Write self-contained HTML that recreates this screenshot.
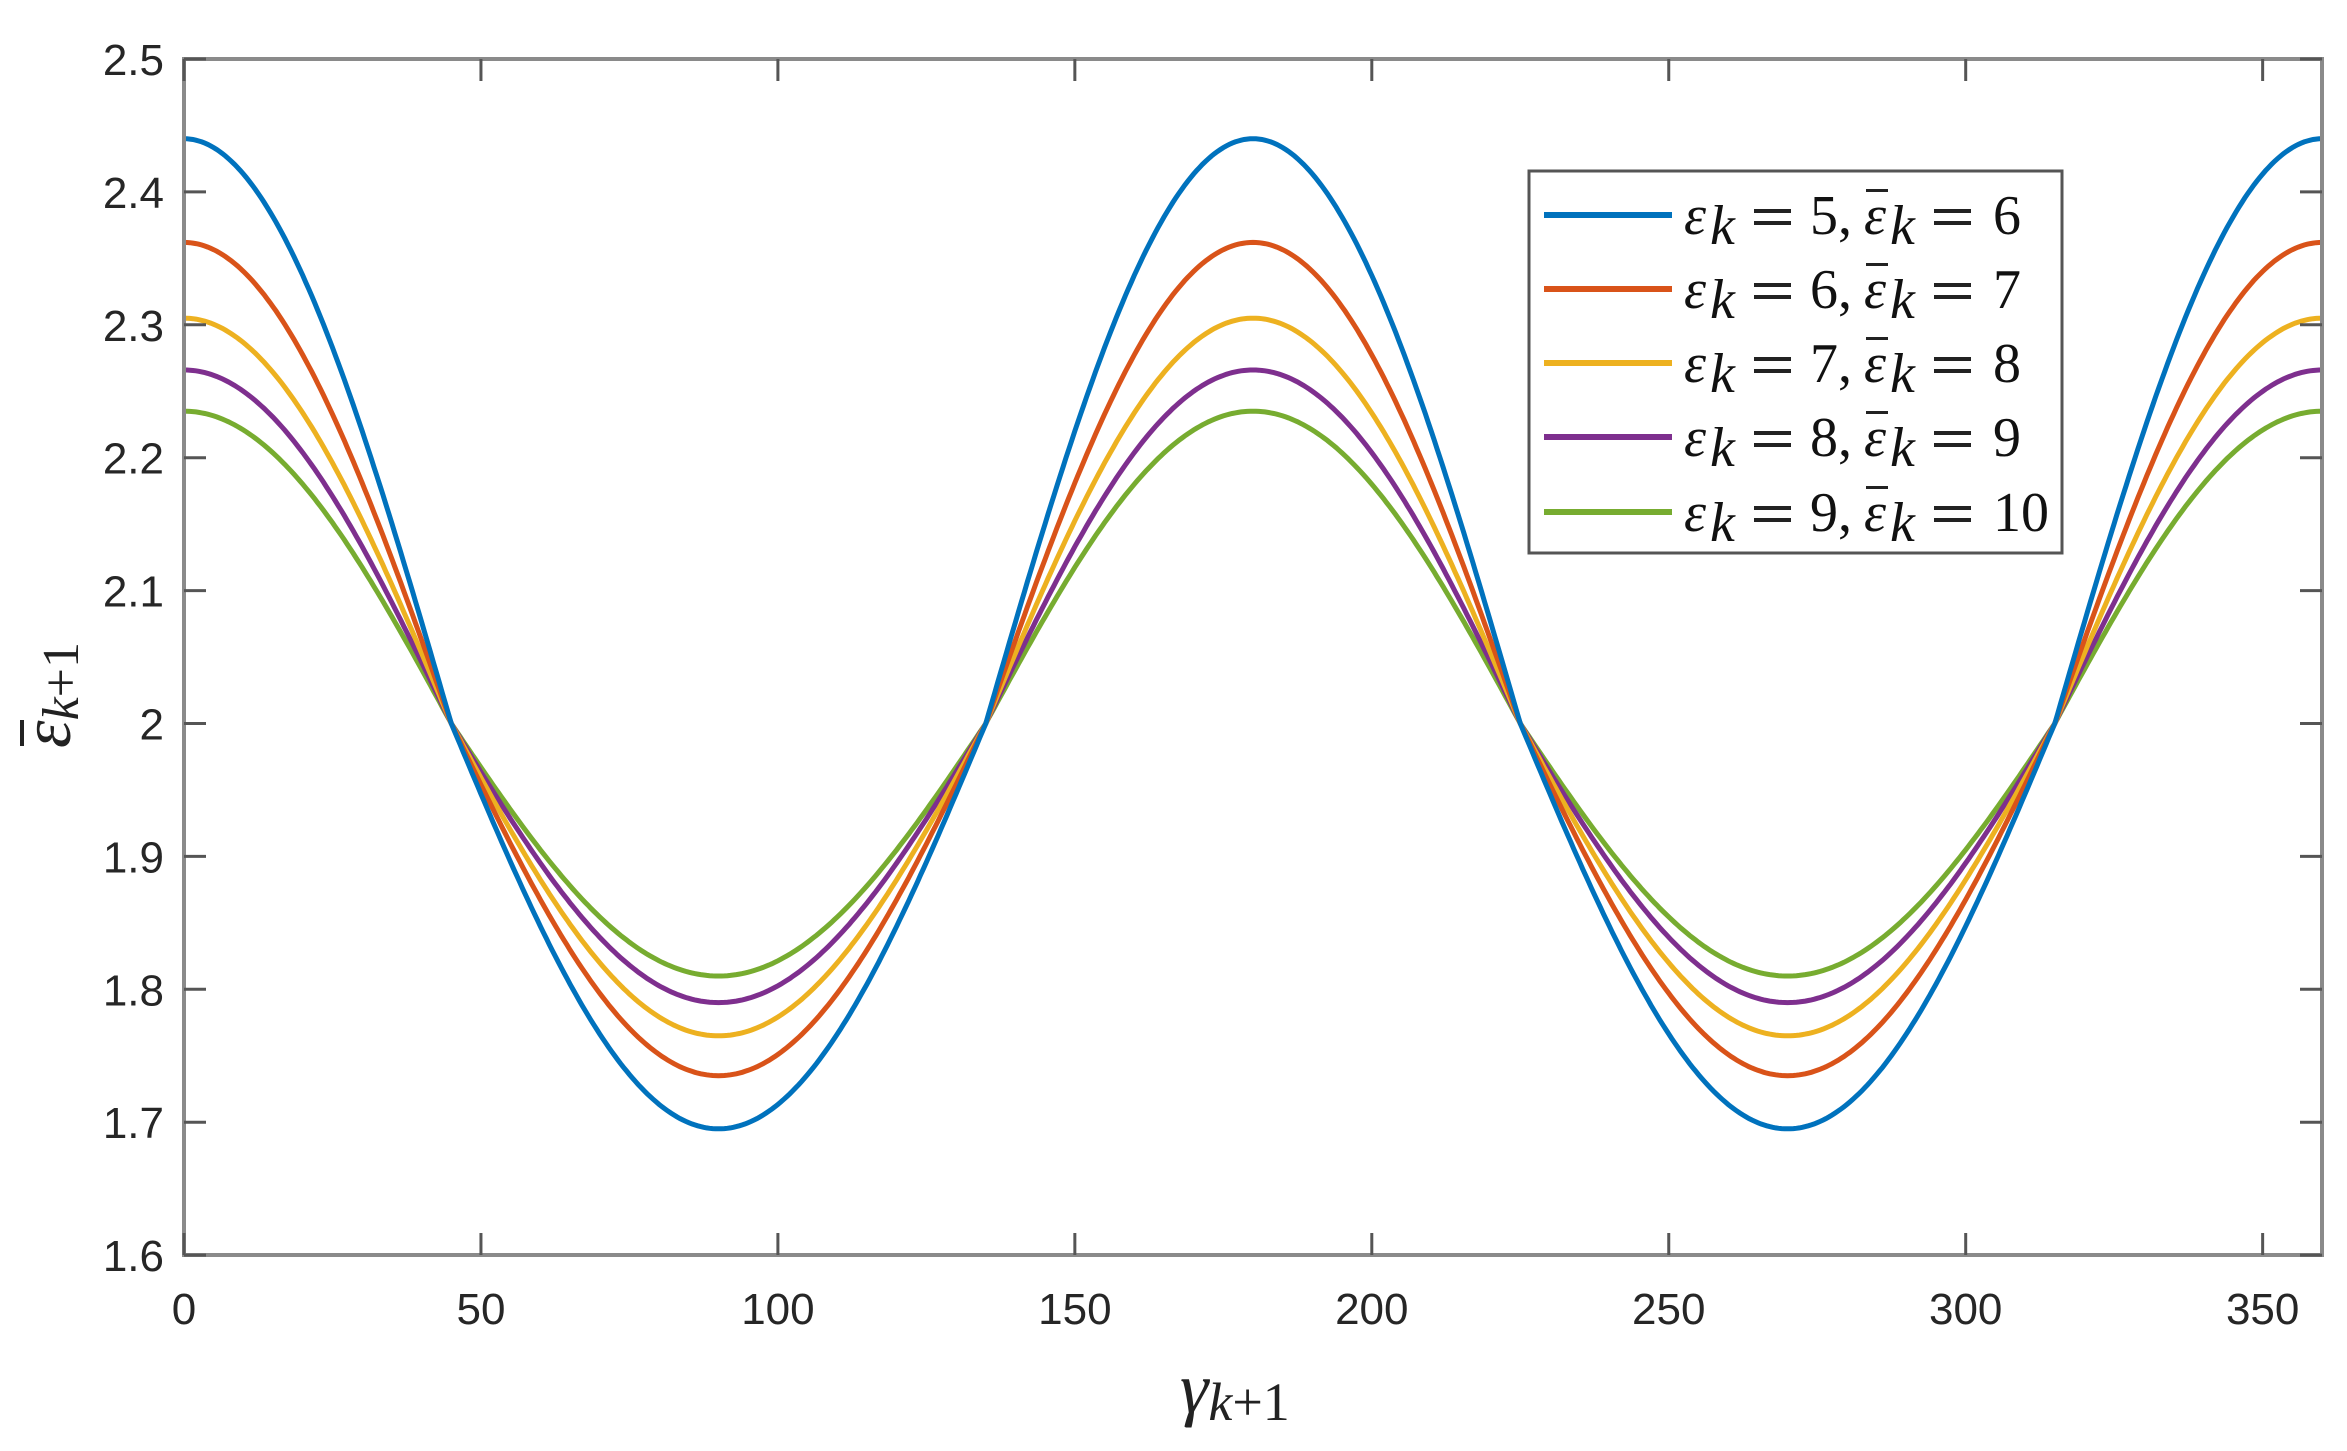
<!DOCTYPE html>
<html><head><meta charset="utf-8"><style>
html,body{margin:0;padding:0;background:#fff;}
svg{display:block;}
.t{font-family:"Liberation Sans",sans-serif;font-size:44px;fill:#262626;}
.m{font-family:"Liberation Serif",serif;font-size:56px;fill:#111;}
.i{font-style:italic;}
</style></head><body>
<svg id="s" width="2347" height="1451" viewBox="0 0 2347 1451" xmlns="http://www.w3.org/2000/svg">
<g id="curves" fill="none" stroke-width="5"></g>
<rect x="184" y="59" width="2138" height="1196" fill="none" stroke="#8a8a8a" stroke-width="4"/>
<g id="ticks" stroke="#555" stroke-width="3"></g>
<g id="labels"></g>
<text x="1180" y="1412" style="font-family:'Liberation Serif',serif;font-style:italic;font-size:72px" fill="#222">γ<tspan font-size="54" dy="8">k</tspan><tspan font-size="54" font-style="normal">+1</tspan></text>
<g transform="translate(70,748) rotate(-90)">
<text x="0" y="0" style="font-family:'Liberation Serif',serif;font-style:italic;font-size:70px" fill="#222">ε<tspan font-size="52" dy="8">k</tspan><tspan font-size="52" font-style="normal">+1</tspan></text>
<line x1="2" y1="-48" x2="28" y2="-48" stroke="#222" stroke-width="4"/>
</g>
<rect x="1529" y="171" width="533" height="382" fill="#fff" stroke="#555" stroke-width="3"/>
<g id="leg"></g>
</svg>
<script>
var X=function(g){return 184+g*5.939;};
var Y=function(v){return 723.5-(v-2)*1329;};
var ser=[["#0072BD",0.44,0.305,"5","6"],["#D95319",0.362,0.265,"6","7"],["#EDB120",0.305,0.235,"7","8"],["#7E2F8E",0.266,0.21,"8","9"],["#77AC30",0.235,0.19,"9","10"]];
var NS="http://www.w3.org/2000/svg";
function el(t,a,p,txt){var e=document.createElementNS(NS,t);for(var k in a)e.setAttribute(k,a[k]);if(txt!==undefined)e.textContent=txt;p.appendChild(e);return e;}
var cg=document.getElementById("curves");
for(var i=ser.length-1;i>=0;i--){var s=ser[i],d="";
for(var g=0;g<=360;g+=0.5){var c=Math.cos(2*g*Math.PI/180);var v=2+(c>0?s[1]:s[2])*c;d+=(g?"L":"M")+X(g).toFixed(1)+" "+Y(v).toFixed(1);}
el("path",{d:d,stroke:s[0]},cg);}
var tg=document.getElementById("ticks"),lg=document.getElementById("labels");
for(var g=0;g<=350;g+=50){var x=X(g);el("line",{x1:x,y1:1255,x2:x,y2:1233},tg);el("line",{x1:x,y1:59,x2:x,y2:81},tg);el("text",{x:x,y:1324,"text-anchor":"middle","class":"t"},lg,String(g));}
for(var k=0;k<=9;k++){var v=1.6+k*0.1,y=Y(v);el("line",{x1:184,y1:y,x2:206,y2:y},tg);el("line",{x1:2322,y1:y,x2:2300,y2:y},tg);
var lab=(Math.round(v*10)/10).toString();el("text",{x:164,y:y+16,"text-anchor":"end","class":"t"},lg,lab);}
var L=document.getElementById("leg");var ry=[215,289,363,437,512];
for(var i=0;i<5;i++){var s=ser[i],y=ry[i],b=y+19;
el("line",{x1:1544,y1:y,x2:1672,y2:y,stroke:s[0],"stroke-width":6},L);
el("text",{x:1684,y:b,"class":"m i"},L,"ε");
el("text",{x:1710,y:b+10,"class":"m i","font-size":"34"},L,"k");
el("rect",{x:1754,y:y-6,width:37,height:4,fill:"#222"},L);
el("rect",{x:1754,y:y+6,width:37,height:4,fill:"#222"},L);
el("text",{x:1810,y:b,"class":"m"},L,s[3]+",");
el("text",{x:1864,y:b,"class":"m i"},L,"ε");
el("rect",{x:1866,y:y-26,width:22,height:3,fill:"#222"},L);
el("text",{x:1890,y:b+10,"class":"m i","font-size":"34"},L,"k");
el("rect",{x:1934,y:y-6,width:37,height:4,fill:"#222"},L);
el("rect",{x:1934,y:y+6,width:37,height:4,fill:"#222"},L);
el("text",{x:1993,y:b,"class":"m"},L,s[4]);}
</script>
</body></html>
